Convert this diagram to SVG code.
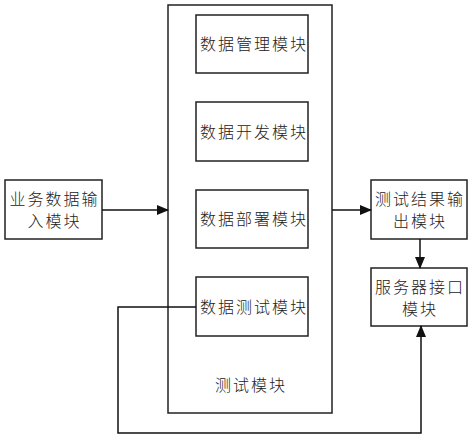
<svg xmlns="http://www.w3.org/2000/svg" width="474" height="439" viewBox="0 0 474 439">
<defs>
<marker id="arr" markerWidth="12" markerHeight="10" refX="11" refY="5" orient="auto" markerUnits="userSpaceOnUse">
<path d="M0,0 L12,5 L0,10 Z" fill="#111"/>
</marker>
<style>
.box{fill:#fff;stroke:#222;stroke-width:1.5}
.t{font-family:"Noto Sans CJK SC","Noto Sans",sans-serif;font-size:16px;letter-spacing:2px;fill:#222;text-anchor:middle;font-weight:300}
.c{fill:none;stroke:#111;stroke-width:1.5}
</style>
</defs>
<rect width="474" height="439" fill="#fff"/>
<g id="test-module">
<rect class="box" x="168" y="5" width="164" height="408"/>
<text class="t" x="251" y="391">测试模块</text>
</g>
<g id="data-mgmt">
<rect class="box" x="196" y="15" width="112" height="58"/>
<text class="t" x="254" y="50">数据管理模块</text>
</g>
<g id="data-dev">
<rect class="box" x="196" y="102" width="112" height="59"/>
<text class="t" x="254" y="138">数据开发模块</text>
</g>
<g id="data-deploy">
<rect class="box" x="196" y="190" width="112" height="58"/>
<text class="t" x="254" y="225">数据部署模块</text>
</g>
<g id="data-test">
<rect class="box" x="196" y="277" width="112" height="59"/>
<text class="t" x="254" y="313">数据测试模块</text>
</g>
<g id="input">
<rect class="box" x="5" y="180" width="97" height="59"/>
<text class="t" x="54.5" y="205">业务数据输</text>
<text class="t" x="54.5" y="227">入模块</text>
</g>
<g id="output">
<rect class="box" x="371" y="180" width="96" height="59"/>
<text class="t" x="420" y="205">测试结果输</text>
<text class="t" x="420" y="227">出模块</text>
</g>
<g id="server">
<rect class="box" x="371" y="268" width="96" height="58"/>
<text class="t" x="420" y="293">服务器接口</text>
<text class="t" x="420" y="315">模块</text>
</g>
<g id="connectors">
<line class="c" x1="102" y1="210" x2="168" y2="210" marker-end="url(#arr)"/>
<line class="c" x1="332" y1="210" x2="371" y2="210" marker-end="url(#arr)"/>
<line class="c" x1="420" y1="239" x2="420" y2="268" marker-end="url(#arr)"/>
<polyline class="c" points="196,307 118,307 118,433 421,433 421,326" marker-end="url(#arr)"/>
</g>
</svg>
